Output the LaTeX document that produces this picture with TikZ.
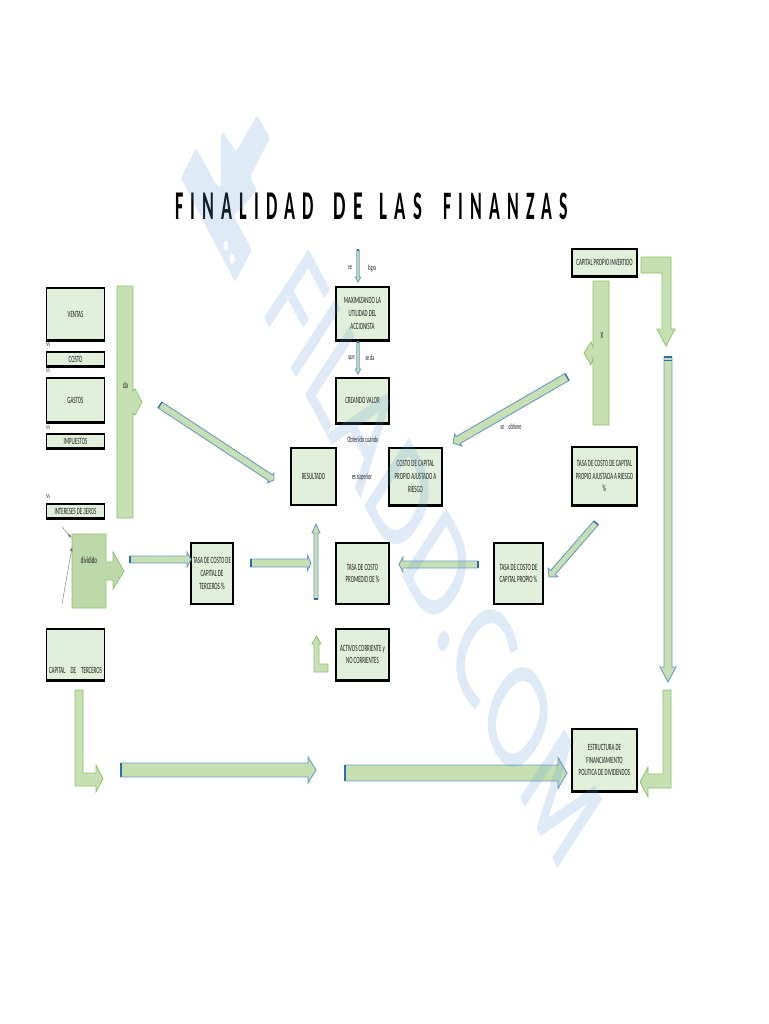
\documentclass[tikz,border=0pt]{standalone}
\usepackage{fontspec}
\setmainfont{Carlito}
\newfontfamily\smf[FakeStretch=0.52]{Carlito}
\newfontfamily\titlef[LetterSpace=40]{Carlito}
\newfontfamily\wmf[FakeBold=2]{Open Sans}
\definecolor{boxfill}{HTML}{E2EFDA}
\definecolor{arrfill}{HTML}{C6E0B4}
\definecolor{arrdark}{HTML}{BDD9AA}
\definecolor{greenline}{HTML}{8CC56A}
\definecolor{blueline}{HTML}{6A9BCB}
\definecolor{bluetail}{HTML}{2E6DAE}
\definecolor{wm}{HTML}{5B9BD5}
\definecolor{txt}{HTML}{1A1A1A}
\tikzset{
  finbox/.style={draw=black,line width=1.2pt,fill=boxfill,inner sep=0pt,align=center,text=txt,
    font=\smf\fontsize{9.5}{12.7}\selectfont},
  lab/.style={inner sep=0pt,text=txt,font=\smf\fontsize{9.5}{11}\selectfont},
  tiny/.style={inner sep=0pt,text=txt,font=\smf\fontsize{5.5}{6}\selectfont},
  greenarr/.style={draw=greenline,line width=0.8pt,fill=arrfill,line join=miter},
  bluearr/.style={draw=blueline,line width=0.9pt,fill=arrfill,line join=miter},
  thinline/.style={draw=black!55,line width=0.4pt,-latex},
  ttl/.style={inner sep=0pt,anchor=south west,text=black}
}
\newcommand\ttlword[1]{\titlef\bfseries\fontsize{41}{41}\selectfont #1}
% straight block arrow with blue outline and dark tail edge
\newcommand\barrow[7]{%
  \pgfmathsetmacro\ln{veclen(#3-#1,#4-#2)}%
  \pgfmathsetmacro\ux{(#3-#1)/\ln}%
  \pgfmathsetmacro\uy{(#4-#2)/\ln}%
  \pgfmathsetmacro\sa{#5/2}%
  \pgfmathsetmacro\ha{#6/2}%
  \pgfmathsetmacro\bx{#3-#7*\ux}%
  \pgfmathsetmacro\by{#4-#7*\uy}%
  \draw[bluearr] (#1-\sa*\uy,#2+\sa*\ux) -- (\bx-\sa*\uy,\by+\sa*\ux) -- (\bx-\ha*\uy,\by+\ha*\ux)
    -- (#3,#4) -- (\bx+\ha*\uy,\by-\ha*\ux) -- (\bx+\sa*\uy,\by-\sa*\ux) -- (#1+\sa*\uy,#2-\sa*\ux) -- cycle;
  \draw[bluetail,line width=1.3pt] (#1-\sa*\uy,#2+\sa*\ux) -- (#1+\sa*\uy,#2-\sa*\ux);
}
\begin{document}
\begin{tikzpicture}[x=1pt,y=-1pt]
\useasboundingbox (0,0) rectangle (768,1024);
\fill[white] (0,0) rectangle (768,1024);

% title
\node[ttl] (t1) at (175,219.5) {\resizebox{139pt}{26.5pt}{\ttlword{FINALIDAD}}};
\node[ttl] (t2) at (333,219.5) {\resizebox{30pt}{26.5pt}{\ttlword{DE}}};
\node[ttl] (t3) at (379,219.5) {\resizebox{43pt}{26.5pt}{\ttlword{LAS}}};
\node[ttl] (t4) at (443,219.5) {\resizebox{125pt}{26.5pt}{\ttlword{FINANZAS}}};

% boxes
\node[finbox,minimum width=58pt,minimum height=52pt] (ventas) at (75.5,314) {VENTAS};
\node[finbox,minimum width=58pt,minimum height=14pt] (costo) at (75.5,359) {COSTO};
\node[finbox,minimum width=58pt,minimum height=44pt] (gastos) at (75.5,400) {GASTOS};
\node[finbox,minimum width=58pt,minimum height=14pt] (impuestos) at (75.5,441) {IMPUESTOS};
\node[finbox,minimum width=58pt,minimum height=14pt] (intereses) at (75.5,511) {INTERESES DE 3EROS};
\node[finbox,minimum width=58pt,minimum height=51pt] (capter) at (75.5,654.5) {};
\node[lab,anchor=center] (capterlab) at (75.5,670.5) {CAPITAL\hspace{0.55em}DE\hspace{0.55em}TERCEROS};
\node[finbox,minimum width=42pt,minimum height=61pt] (tasater) at (212,573.5) {TASA DE COSTO DE\\CAPITAL DE\\TERCEROS \%};
\node[finbox,minimum width=53pt,minimum height=53pt] (maxim) at (362.5,313.5) {MAXIMIZANDO LA\\UTILIDAD DEL\\ACCIONISTA};
\node[finbox,minimum width=53pt,minimum height=45pt] (creando) at (362.5,400.5) {CREANDO VALOR};
\node[finbox,minimum width=45pt,minimum height=57pt] (resultado) at (313.5,476.5) {RESULTADO};
\node[finbox,minimum width=53pt,minimum height=57pt] (costocap) at (415.5,476.5) {COSTO DE CAPITAL\\PROPIO AJUSTADO A\\RIESGO};
\node[finbox,minimum width=65pt,minimum height=27pt] (capprop) at (604.5,262.5) {CAPITAL PROPIO INVERTIDO};
\node[finbox,minimum width=65pt,minimum height=58pt] (tasarie) at (604.5,476) {TASA DE COSTO DE CAPITAL\\PROPIO AJUSTADA A RIESGO\\\%};
\node[finbox,minimum width=53pt,minimum height=61pt] (tasaprom) at (362.5,573.5) {TASA DE COSTO\\PROMEDIO DE \%};
\node[finbox,minimum width=49pt,minimum height=61pt] (tasaprop) at (518.5,573.5) {TASA DE COSTO DE\\CAPITAL PROPIO \%};
\node[finbox,minimum width=53pt,minimum height=51pt] (activos) at (362.5,654.5) {ACTIVOS CORRIENTE y\\NO CORRIENTES};
\node[finbox,minimum width=65pt,minimum height=62pt] (estruct) at (604.5,760) {ESTRUCTURA DE\\FINANCIAMIENTO\\POLITICA DE DIVIDENDOS};
\foreach \n in {ventas,costo,gastos,impuestos,intereses,capter,maxim,creando,costocap,capprop,activos,estruct,tasarie}
  \draw[line width=2pt] (\n.south west) -- (\n.south east);
\foreach \n in {ventas,gastos,maxim,creando,capprop,tasarie,estruct}
  \draw[line width=1.8pt] (\n.north west) -- (\n.north east);

% green block shapes
\draw[greenarr] (117,286) -- (133,286) -- (133,391) -- (135,389) -- (142,402) -- (135,415) -- (133,413) -- (133,518) -- (117,518) -- cycle;
\node[lab] (da) at (125.5,385) {da};
\draw[greenarr,fill=arrdark] (72,534) -- (106,534) -- (106,562) -- (113,562) -- (113,552) -- (124,571) -- (113,589) -- (113,580) -- (106,580) -- (106,608) -- (72,608) -- cycle;
\node[lab] (dividido) at (89,560) {dividido};
\draw[greenarr] (593,281) -- (609,281) -- (609,425) -- (593,425) -- (593,358) -- (591,365) -- (584,353) -- (591,342) -- (593,347) -- cycle;
\node[lab] (xl) at (602,335) {X};
\draw[greenarr] (641,257) -- (671,257) -- (671,329) -- (675,329) -- (666,346) -- (657,329) -- (662,329) -- (662,273) -- (641,273) -- cycle;
\draw[greenarr] (75,690) -- (83,690) -- (83,773) -- (96,773) -- (96,765) -- (103,778.5) -- (96,792) -- (96,786) -- (75,786) -- cycle;
\draw[greenarr] (671,690) -- (663,690) -- (663,774) -- (648,774) -- (648,767) -- (640,782) -- (648,797) -- (648,788) -- (671,788) -- cycle;
\draw[greenarr] (314,672) -- (314,644) -- (312,644) -- (316.5,636) -- (321,644) -- (319,644) -- (319,664) -- (328,664) -- (328,672) -- cycle;

% blue outlined block arrows
\barrow{358}{250}{358}{282}{2.5}{5.5}{5}
\barrow{358}{342}{358}{374}{2.5}{5.5}{5}
\barrow{160}{405}{274}{480}{7}{12}{4}
\barrow{567}{377}{453}{443}{8}{14}{6}
\barrow{596}{523}{549}{577}{6}{13}{6}
\barrow{130}{559.5}{191}{559.5}{7}{15}{4}
\barrow{251}{563}{311}{563}{8}{15}{3.5}
\barrow{316}{599}{316}{524}{4}{8}{9}
\barrow{478}{564.5}{399}{564.5}{7}{15}{4}
\barrow{121}{770}{316}{770}{14}{26}{8}
\barrow{345}{773}{567}{773}{16}{31}{9}
\barrow{668}{357}{668}{682}{8}{16}{15}
\draw[bluetail,line width=0.8pt] (664,360) -- (672,360);

% thin pointers
\coordinate (p1) at (62,527);
\coordinate (p2) at (62,604);
\draw[thinline] (p1) -- (71.5,538);
\draw[thinline] (p2) -- (72,547);

% labels
\node[tiny,anchor=west] (p-a) at (46,345) {\%\%};
\node[tiny,anchor=west] (p-b) at (46,371) {\%\%};
\node[tiny,anchor=west] (p-c) at (46,427.5) {\%\%};
\node[tiny,anchor=west] (p-d) at (46,497) {\%\%};
\node[lab,font=\smf\fontsize{8}{9}\selectfont] (se1) at (350,268) {se};
\node[lab,font=\smf\fontsize{8}{9}\selectfont] (logra) at (372,268) {logra};
\node[lab,font=\smf\fontsize{8}{9}\selectfont] (que) at (351.5,358) {que};
\node[lab,font=\smf\fontsize{8}{9}\selectfont] (seda) at (370,358) {se da};
\node[lab,font=\smf\fontsize{8.5}{9}\selectfont] (obt) at (363,440) {Obtenido cuando};
\node[lab,font=\smf\fontsize{8.5}{9}\selectfont] (essup) at (362,477) {es superior};
\node[lab,font=\smf\fontsize{8}{9}\selectfont] (seobt) at (511,427) {se\hspace{0.5em}obtiene};

% watermark logo
\fill[wm,opacity=0.2,rounded corners=2pt] (196,148) -- (217,186) -- (221,187) -- (221,137) -- (223,132) -- (236,152)
  -- (257,115) -- (270,138) -- (250,177) -- (257,190) -- (243,207) -- (233,215) -- (252,250) -- (235,282) -- (181,178) -- cycle;
\fill[white] (226,246) ellipse (2.5 and 5);
\fill[white] (232,259) ellipse (2.5 and 5);
% watermark text
\begin{scope}[transparency group,opacity=0.2]
\begin{scope}[cm={0.515,-0.965,0.606,0.93,(260pt,-308pt)}]
  \node[transform shape,anchor=base west,inner sep=0pt,text=wm] (wmark) at (0,0)
    {\wmf\fontsize{100}{100}\selectfont FILADD.COM};
\end{scope}
\end{scope}
\end{tikzpicture}
\end{document}
